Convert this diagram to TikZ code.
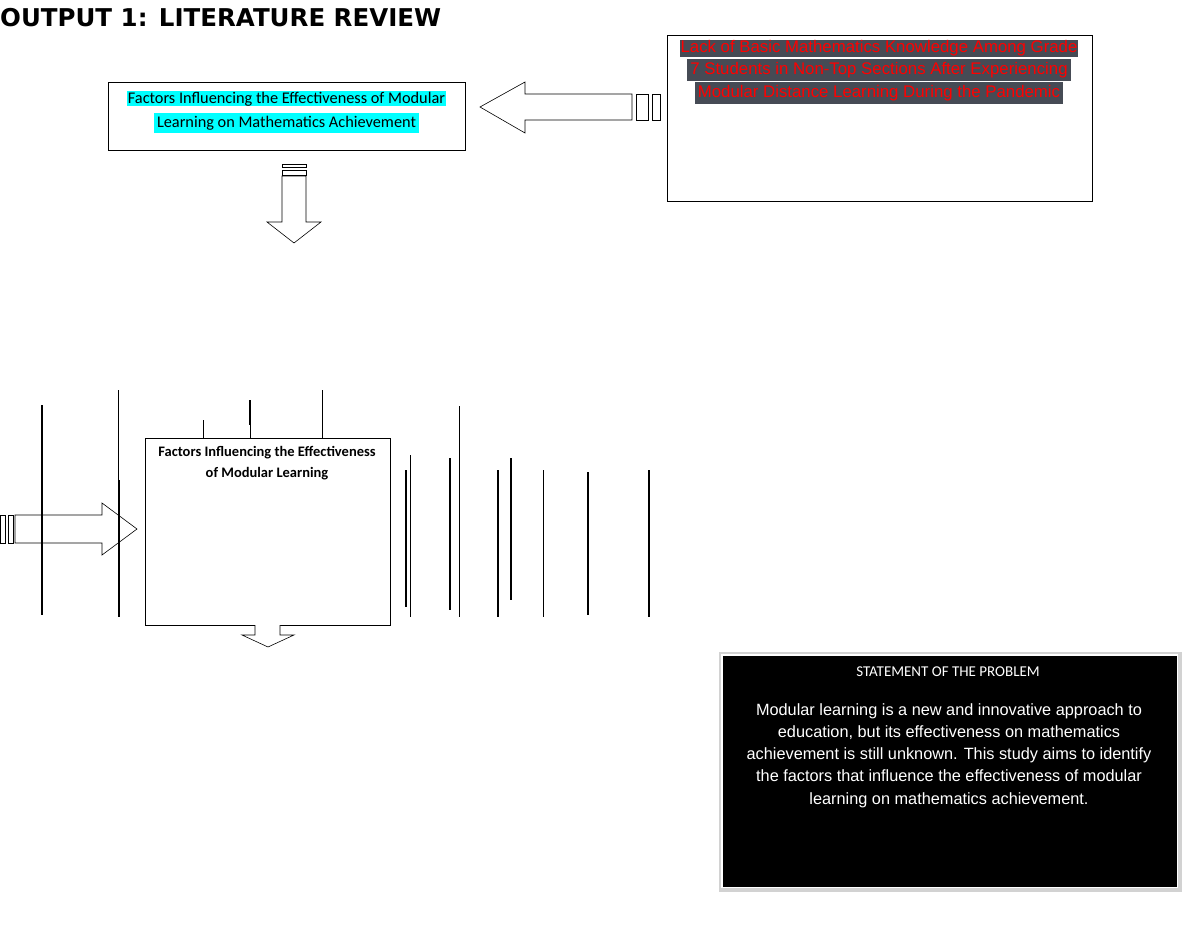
\documentclass[tikz,border=0pt]{standalone}
\usepackage{fontspec}
\setmainfont{Liberation Sans}
\newfontfamily\carl{Carlito}
\newfontfamily\dvs{DejaVu Sans}
\definecolor{cy}{RGB}{0,255,255}
\definecolor{hl}{HTML}{464B55}
\begin{document}
\begin{tikzpicture}[x=1pt,y=-1pt,
  box/.style={draw=black,line width=0.8pt,fill=white},
  arr/.style={draw=black,line width=0.6pt,fill=white},
  vl/.style={line width=0.8pt},
  vt/.style={line width=2pt}]
\useasboundingbox (0,0) rectangle (1200,927);
\node[anchor=west,inner sep=0,font=\dvs\bfseries\fontsize{24.5}{26}\selectfont] (title) at (0,18) {OUTPUT 1: LITERATURE REVIEW};
% box 1
\node[box,minimum width=357,minimum height=68,anchor=north west] (b1) at (108,82) {};
\node[inner sep=0,align=center,font=\carl\fontsize{16.3}{24}\selectfont] (t1) at (286.5,112) {\setlength{\fboxsep}{0.5pt}\colorbox{cy}{Factors Influencing the Effectiveness of Modular}\\\colorbox{cy}{Learning on Mathematics Achievement}};
% box 2
\node[box,minimum width=425,minimum height=166,anchor=north west] (b2) at (667,35) {};
\node[inner sep=0,align=center,anchor=north,font=\fontsize{16.8}{21.5}\selectfont,text=red] (t2) at (879,40) {\setlength{\fboxsep}{0.6pt}%
\colorbox{hl}{Lack of Basic Mathematics Knowledge Among Grade}\\
\colorbox{hl}{7 Students in Non-Top Sections After Experiencing}\\
\colorbox{hl}{Modular Distance Learning During the Pandemic}};
% left arrow
\draw[arr] (480,107) coordinate (la) -- (525,82) -- (525,94) -- (632,94) -- (632,120) -- (525,120) -- (525,133) -- cycle;
\draw[arr] (636,94) rectangle (648,120);
\draw[arr] (652,94) rectangle (660,120);
% down arrow
\draw[arr] (282,176) -- (306,176) -- (306,222) -- (321,222) -- (294,243) coordinate (da) -- (267,222) -- (282,222) -- cycle;
\draw[arr] (282,164) rectangle (306,167);
\draw[arr] (282,170) rectangle (306,175);
% box 3
\node[box,minimum width=245,minimum height=187,anchor=north west] (b3) at (145,438) {};
\node[inner sep=0,align=center,anchor=north,font=\carl\bfseries\fontsize{14.5}{21}\selectfont] (t3) at (267,446) {Factors Influencing the Effectiveness\\of Modular Learning};
% right arrow
\draw[arr] (15,515) -- (102,515) -- (102,503) -- (137,529) coordinate (ra) -- (102,555) -- (102,543) -- (15,543) -- cycle;
\draw[arr] (0,515) rectangle (5,543);
\draw[arr] (8,515) rectangle (13,543);
% small down arrow
\draw[arr] (255,625) -- (255,635) -- (242,635) -- (268,647) coordinate (sa) -- (294,635) -- (280,635) -- (280,625);
% vertical lines
\draw[vt] (42,405) -- (42,615);
\draw[vl] (118,390) -- (118,617);
\draw[line width=1.5pt] (119,480) -- (119,617);
\draw[vl] (203,420) -- (203,438);
\draw[vl] (250,400) -- (250,438);
\draw[line width=1.5pt] (250,400) -- (250,425);
\draw[vl] (322,390) -- (322,438);
\draw[vl] (410,455) -- (410,617);
\draw[line width=1.4pt] (406,470) -- (406,607);
\draw[vt] (450,458) -- (450,610);
\draw[vl] (459,406) -- (459,617);
\draw[line width=1.5pt] (498,470) -- (498,617);
\draw[line width=1.2pt] (511,458) -- (511,600);
\draw[vl] (543,470) -- (543,617);
\draw[vt] (588,472) -- (588,615);
\draw[line width=1.3pt] (649,470) -- (649,617);
% statement box
\fill[gray!35] (719,652) rectangle (1182,892);
\fill[white] (721,654) rectangle (1178,888);
\node[fill=black,minimum width=454,minimum height=231,anchor=north west,inner sep=0] (sp) at (723,656) {};
\node[text=white,inner sep=0,font=\carl\fontsize{15}{18}\selectfont] (spt) at (948,672) {STATEMENT OF THE PROBLEM};
\node[text=white,align=center,inner sep=0,anchor=north,font=\fontsize{16.3}{22.3}\selectfont] (spb) at (949,703) {Modular learning is a new and innovative approach to\\education, but its effectiveness on mathematics\\achievement is still unknown. This study aims to identify\\the factors that influence the effectiveness of modular\\learning on mathematics achievement.};
\end{tikzpicture}
\end{document}
